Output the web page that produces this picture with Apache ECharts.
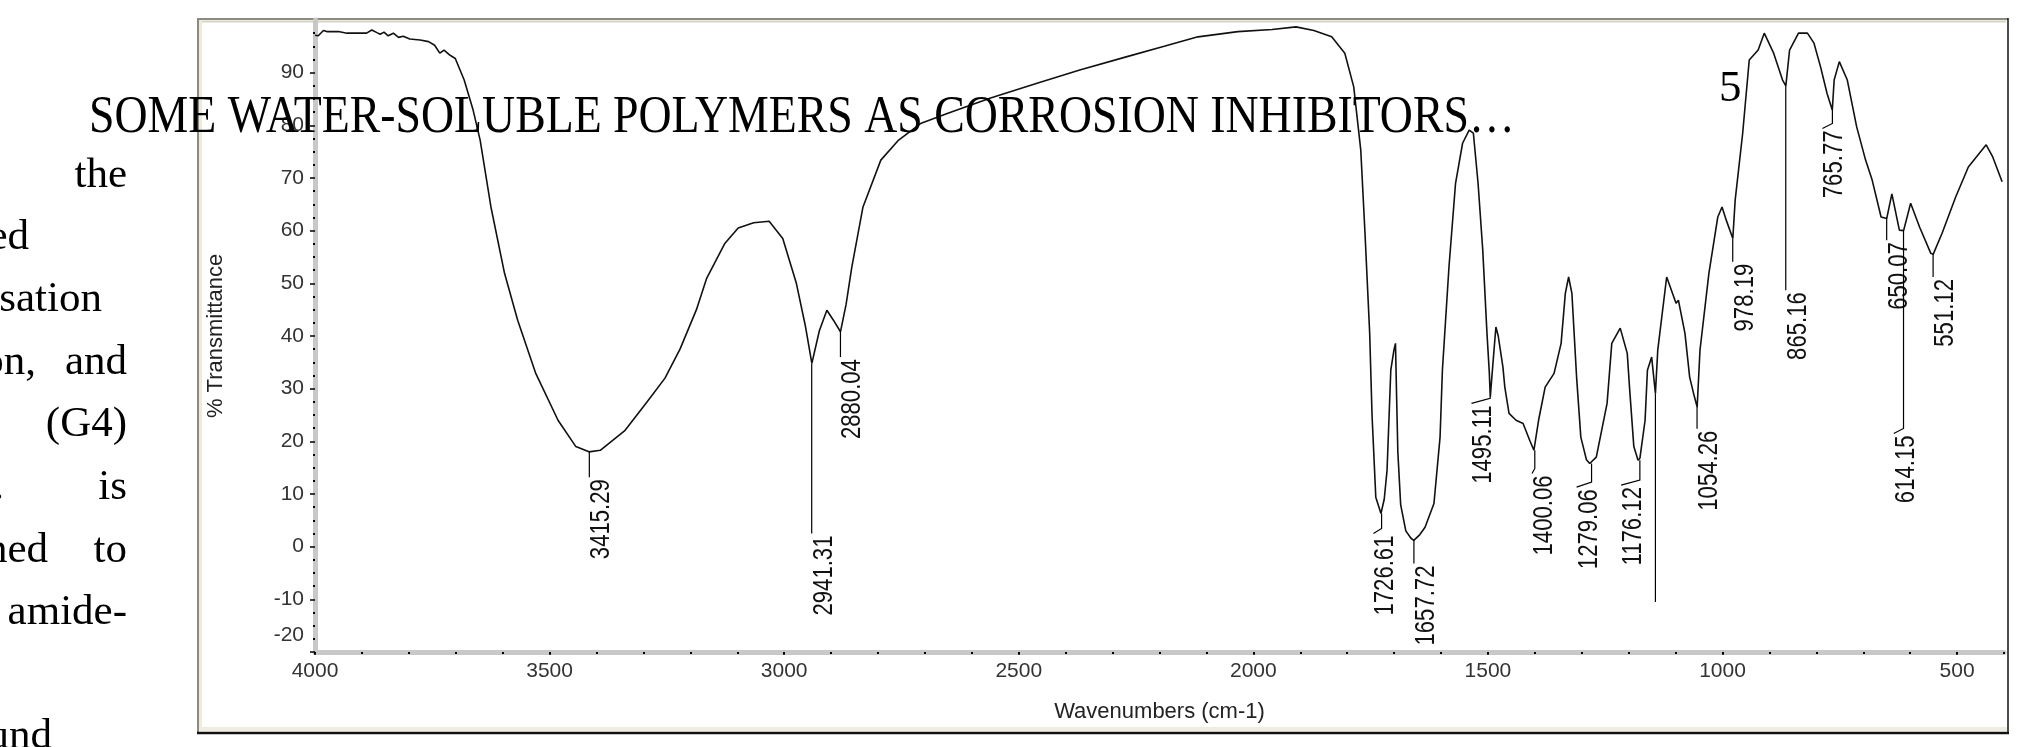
<!DOCTYPE html>
<html>
<head>
<meta charset="utf-8">
<title>IR spectrum</title>
<script src="https://cdn.jsdelivr.net/npm/echarts@6/dist/echarts.min.js"></script>
<style>
    html, body { margin: 0; padding: 0; background: #fff; }
    #chart { width: 2041px; height: 747px; }
</style>
</head>
<body>
<div id="chart"></div>
<script>
/* spectrum: wavenumber (cm-1) and % transmittance */
const wavenumbers = [
    4000, 3993, 3982, 3975, 3950, 3932, 3910, 3890, 3879, 3868, 3861, 3853, 3844, 3833, 3822, 3812,
    3798, 3776, 3758, 3745, 3734, 3725, 3712, 3701, 3682, 3663, 3648, 3625, 3596, 3568, 3530, 3482,
    3444, 3416, 3392, 3339, 3292, 3254, 3222, 3187, 3165, 3127, 3098, 3065, 3032, 3003, 2974, 2955,
    2941, 2925, 2909, 2895, 2880, 2868, 2856, 2832, 2794, 2756, 2708, 2651, 2560, 2461, 2370, 2271,
    2190, 2118, 2033, 1960, 1909, 1871, 1833, 1805, 1786, 1771, 1762, 1752, 1747, 1739, 1728, 1721,
    1715, 1707, 1700, 1697, 1695, 1692, 1686, 1675, 1664, 1658, 1645, 1634, 1615, 1602, 1597, 1583,
    1569, 1554, 1540, 1531, 1521, 1511, 1502, 1497, 1495, 1490, 1483, 1478, 1468, 1464, 1455, 1440,
    1425, 1411, 1402, 1392, 1378, 1359, 1344, 1335, 1328, 1321, 1311, 1302, 1290, 1283, 1269, 1246,
    1236, 1218, 1203, 1198, 1189, 1180, 1176, 1165, 1160, 1151, 1147, 1143, 1138, 1119, 1099, 1094,
    1080, 1070, 1060, 1054, 1048, 1029, 1010, 1001, 992, 978, 973, 957, 943, 924, 911, 891,
    872, 865, 857, 838, 819, 805, 791, 777, 766, 762, 751, 734, 714, 695, 681, 662,
    650, 639, 623, 614, 599, 580, 556, 551, 532, 503, 476, 438, 424, 404
];
const transmittance = [
    97.1, 97.0, 98.0, 97.8, 97.8, 97.5, 97.5, 97.5, 98.1, 97.6, 97.3, 97.7, 97.0, 97.5, 96.7, 96.9,
    96.4, 96.2, 95.9, 95.2, 93.7, 94.3, 93.3, 92.7, 88.6, 82.9, 77.2, 64.5, 51.9, 43.0, 33.0, 24.0,
    19.0, 18.0, 18.3, 22.1, 27.5, 32.0, 37.5, 45.0, 51.0, 57.5, 60.5, 61.5, 61.8, 58.5, 50.0, 42.0,
    34.8, 41.0, 44.9, 43.0, 40.8, 46.0, 53.0, 64.5, 73.4, 77.2, 80.4, 82.3, 85.2, 88.0, 90.5, 93.0,
    95.0, 96.8, 97.8, 98.2, 98.7, 98.0, 96.8, 93.7, 87.3, 75.3, 59.5, 40.5, 25.0, 9.4, 6.3, 9.0,
    14.5, 33.5, 37.5, 38.6, 30.0, 18.0, 8.0, 3.0, 1.6, 1.2, 2.3, 3.7, 8.2, 20.8, 33.5, 53.1,
    69.0, 76.6, 79.1, 78.5, 69.0, 56.3, 40.5, 33.0, 28.4, 34.0, 41.7, 40.0, 34.1, 30.3, 25.3, 24.0,
    23.4, 20.2, 18.3, 24.0, 30.3, 32.9, 38.6, 48.1, 51.2, 48.1, 32.2, 20.8, 16.5, 15.8, 17.0, 27.2,
    38.6, 41.5, 36.7, 30.0, 19.0, 16.4, 16.8, 24.0, 33.5, 36.0, 36.3, 29.1, 37.3, 51.2, 46.2, 46.8,
    40.5, 32.2, 28.5, 26.5, 37.3, 51.9, 62.6, 64.5, 62.0, 58.5, 65.8, 78.5, 92.4, 94.3, 97.5, 93.7,
    88.6, 87.5, 94.3, 97.5, 97.5, 95.6, 91.1, 86.0, 82.9, 88.6, 92.1, 88.6, 79.7, 73.4, 69.6, 62.6,
    62.3, 67.0, 60.1, 60.0, 65.2, 60.7, 55.7, 55.5, 59.5, 66.4, 72.1, 76.3, 74.0, 69.3
];

/* peak picks: leader from the band tip down to where the label starts */
const peakLabels = ["3415.29", "2941.31", "2880.04", "1726.61", "1657.72", "1495.11", "1400.06", "1279.06",
    "1176.12", "", "1054.26", "978.19", "865.16", "765.77", "650.07", "614.15", "551.12"];
const peakWn = [3415.29, 2941.31, 2880.04, 1726.61, 1657.72, 1495.11, 1400.06, 1279.06,
    1176.12, 1143, 1054.26, 978.19, 865.16, 765.77, 650.07, 614.15, 551.12];
const peakTip = [18, 34.8, 40.8, 6.3, 1.2, 28.4, 18.3, 15.8, 16.4, 29.1, 26.5, 58.5, 87.5, 82.9, 62.3, 60.1, 55.5];
const leaderEndWn = [3415.29, 2941.31, 2880.04, 1744, 1657.72, 1535, 1406, 1311,
    1216, 1143, 1054.26, 978.19, 865.16, 787, 650.07, 635, 551.12];
const leaderEndT = [13.2, 2.5, 36.0, 2.5, -3.2, 27.2, 13.9, 11.3, 11.7, -10.5, 22.4, 54.1, 48.7, 79.4, 58.2, 21.5, 51.2];

const xLabelValues = [4000, 3500, 3000, 2500, 2000, 1500, 1000, 500];
const yLabelValues = [-20, -10, 0, 10, 20, 30, 40, 50, 60, 70, 80, 90];

/* page text around the figure: word, right edge, baseline */
const pageTitle = "SOME WATER-SOLUBLE POLYMERS AS CORROSION INHIBITORS\u2026";
const pageNumber = "5";
const marginWords = ["the", "ed", "sation", "on,", "and", "(G4)", "is", ".", "ned", "to", "amide-", "und"];
const marginRight = [127, 29, 102, 36, 127, 127, 127, 4, 48, 127, 127, 52];
const marginBaseline = [190, 252, 314, 377, 377, 439, 502, 502, 565, 565, 627, 751];

const TICK_FONT = "Liberation Sans";
const PEAK_FONT = '27px "Liberation Sans"';
const MID = 0.3375; // baseline sits this many em below the middle of the line box

function serifText(text, size, x, baseline, align, scaleX) {
    return {
        type: "text", x: x, y: baseline - MID * size, z: 100, scaleX: scaleX || 1,
        style: { text: text, font: size + 'px "Liberation Serif"', fill: "#000", align: align, verticalAlign: "middle" },
    };
}

function buildGraphics() {
    const els = [];
    // window frame of the spectrometer screenshot
    els.push({ type: "rect", shape: { x: 197, y: 18, width: 1811, height: 715 }, style: { fill: "#fff" }, z: -10 });
    els.push({ type: "line", shape: { x1: 197, y1: 19, x2: 2008, y2: 19 }, style: { stroke: "#8c8b7c", lineWidth: 2 }, z: -5 });
    els.push({ type: "line", shape: { x1: 199, y1: 21.5, x2: 2006, y2: 21.5 }, style: { stroke: "#d6d4c6", lineWidth: 2 }, z: -5 });
    els.push({ type: "line", shape: { x1: 198, y1: 18, x2: 198, y2: 733 }, style: { stroke: "#8c8b7c", lineWidth: 2 }, z: -5 });
    els.push({ type: "line", shape: { x1: 200.5, y1: 21, x2: 200.5, y2: 731 }, style: { stroke: "#ecebde", lineWidth: 3 }, z: -5 });
    els.push({ type: "line", shape: { x1: 199, y1: 729, x2: 2007, y2: 729 }, style: { stroke: "#eeede0", lineWidth: 4 }, z: -5 });
    els.push({ type: "line", shape: { x1: 197, y1: 733, x2: 2009, y2: 733 }, style: { stroke: "#111", lineWidth: 2.5 }, z: -5 });
    els.push({ type: "line", shape: { x1: 2008, y1: 18, x2: 2008, y2: 733 }, style: { stroke: "#111", lineWidth: 1.5 }, z: -5 });

    els.push(serifText(pageTitle, 53, 89, 136, "left", 0.864));
    els.push(serifText(pageNumber, 45, 1719, 104, "left"));
    for (let i = 0; i < marginWords.length; i++) {
        els.push(serifText(marginWords[i], 43, marginRight[i], marginBaseline[i], "right"));
    }
    return els;
}

function renderPeak(params, api) {
    const i = params.dataIndex;
    const tip = api.coord([api.value(0), api.value(1)]);
    const end = api.coord([api.value(2), api.value(3)]);
    const pts = [tip];
    if (Math.abs(end[0] - tip[0]) > 1) pts.push([tip[0], end[1] - 5]);
    pts.push(end);
    const children = [{
        type: "polyline",
        shape: { points: pts },
        style: { stroke: "#000", lineWidth: 1.2, fill: null },
    }];
    if (peakLabels[i]) {
        children.push({
            type: "text",
            x: end[0] - 1,
            y: end[1] + 2,
            rotation: Math.PI / 2,
            scaleX: 0.82,
            style: { text: peakLabels[i], font: PEAK_FONT, fill: "#111", align: "right", verticalAlign: "top" },
        });
    }
    return { type: "group", children: children };
}

function drawChart() {
    let myChart = echarts.init(document.querySelector("#chart"));
    const option = {
        animation: false,
        backgroundColor: "#fff",
        grid: { left: 315, right: 37, top: 20, bottom: 95, outerBoundsMode: "none" },
        xAxis: [
            {
                type: "value",
                inverse: true,
                min: 400,
                max: 4000,
                interval: 100,
                position: "bottom",
                name: "Wavenumbers (cm-1)",
                nameLocation: "middle",
                nameGap: 49,
                nameTextStyle: { fontFamily: TICK_FONT, fontSize: 22, color: "#222" },
                axisLine: { show: true, onZero: false, lineStyle: { color: "#c8c8c8", width: 5 } },
                axisTick: { show: true, length: 2, lineStyle: { color: "#000", width: 2 } },
                axisLabel: {
                    customValues: xLabelValues,
                    margin: 9,
                    fontFamily: TICK_FONT,
                    fontSize: 21,
                    color: "#333",
                    formatter: function (v) {
                        return String(v);
                    },
                },
                splitLine: { show: false },
            },
            {
                // major tick marks, drawn by a second axis laid over the bottom one
                type: "value",
                inverse: true,
                min: 400,
                max: 4000,
                interval: 100,
                position: "top",
                offset: -632,
                axisLine: { show: false, onZero: false },
                axisTick: { show: true, inside: true, length: 3, customValues: xLabelValues, lineStyle: { color: "#000", width: 1.5 } },
                axisLabel: { show: false },
                splitLine: { show: false },
            },
        ],
        yAxis: {
            type: "value",
            min: -20,
            max: 100,
            interval: 10,
            name: "% Transmittance",
            nameLocation: "middle",
            nameGap: 88,
            nameTextStyle: { fontFamily: TICK_FONT, fontSize: 22, color: "#222" },
            axisLine: { show: true, onZero: false, lineStyle: { color: "#c8c8c8", width: 5 } },
            axisTick: { show: true, length: 5, customValues: yLabelValues, lineStyle: { color: "#000", width: 1.5 } },
            minorTick: { show: true, splitNumber: 4, length: 2, lineStyle: { color: "#000", width: 2 } },
            axisLabel: {
                customValues: yLabelValues,
                margin: 11,
                fontFamily: TICK_FONT,
                fontSize: 21,
                color: "#333",
                formatter: function (v) {
                    return v === -20 ? "{up|-20}" : String(v);
                },
                rich: {
                    up: { fontFamily: TICK_FONT, fontSize: 21, color: "#333", padding: [0, 0, 34, 0] },
                },
            },
            splitLine: { show: false },
            minorSplitLine: { show: false },
        },
        graphic: buildGraphics(),
        series: [
            {
                name: "spectrum",
                type: "line",
                xAxisIndex: 0,
                data: wavenumbers.map((w, i) => [w, transmittance[i]]),
                showSymbol: false,
                symbol: "none",
                smooth: false,
                lineStyle: { color: "#111", width: 1.6 },
                z: 2,
            },
            {
                name: "peaks",
                type: "custom",
                xAxisIndex: 0,
                data: peakWn.map((w, i) => [w, peakTip[i], leaderEndWn[i], leaderEndT[i]]),
                renderItem: renderPeak,
                clip: false,
                silent: true,
                z: 3,
            },
        ],
    };
    myChart.setOption(option);
    window.addEventListener("resize", function () {
        myChart.resize();
    });
}

drawChart();
</script>
</body>
</html>
